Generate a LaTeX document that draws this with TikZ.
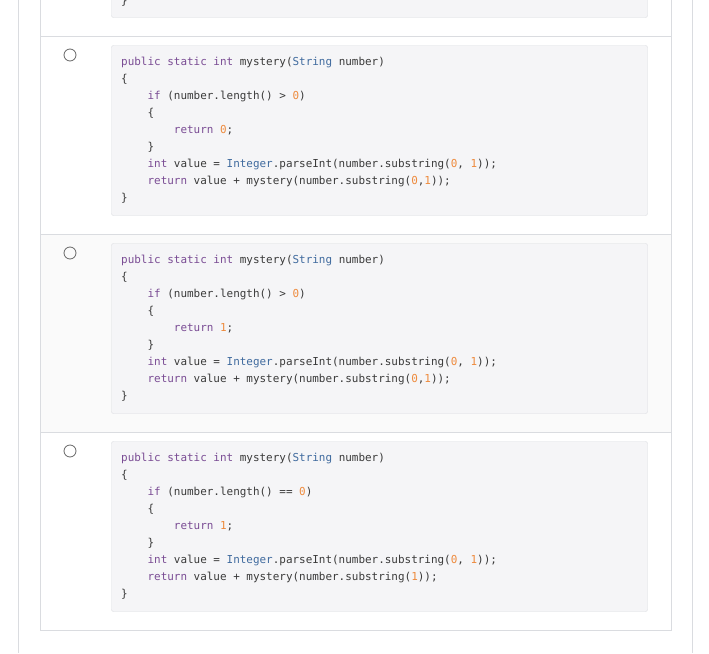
\documentclass[tikz,border=0pt]{standalone}
\usepackage{fontspec}
\setmonofont{DejaVu Sans Mono}
\definecolor{kw}{HTML}{7A4C94}
\definecolor{ty}{HTML}{3F6A9E}
\definecolor{nm}{HTML}{EE8A3C}
\definecolor{tx}{HTML}{3A3A3A}
\definecolor{bd}{HTML}{DADCE0}
\definecolor{cb}{HTML}{F5F5F7}
\newcommand{\K}[1]{\textcolor{kw}{#1}}
\newcommand{\T}[1]{\textcolor{ty}{#1}}
\newcommand{\N}[1]{\textcolor{nm}{#1}}
\begin{document}
\begin{tikzpicture}[x=1pt,y=-1pt,
 code/.style={anchor=west,inner sep=0pt,font=\ttfamily\fontsize{10.95}{12}\selectfont,text=tx,text height=8pt,text depth=2pt},
 box/.style={draw=bd,fill=cb,rounded corners=2pt},
 radio/.style={circle,draw=black!60,line width=0.8pt,minimum size=12pt,inner sep=0pt}]
\useasboundingbox (0,0) rectangle (709,653);
\fill[white] (0,0) rectangle (709,653);
\draw[draw=bd] (18.5,0) -- (18.5,653);
\draw[draw=bd] (692.5,0) -- (692.5,653);
\fill[white] (40.5,0) rectangle (671.5,630.5);
\fill[black!2] (40.5,234.5) rectangle (671.5,432.5);
\draw[draw=bd] (40.5,0) -- (40.5,630.5) -- (671.5,630.5) -- (671.5,0);
\draw[draw=bd] (40.5,36.5) -- (671.5,36.5);
\draw[draw=bd] (40.5,234.5) -- (671.5,234.5);
\draw[draw=bd] (40.5,432.5) -- (671.5,432.5);
\draw[box] (111.5,-5) rectangle (647.5,17.5);
\node[code] (t0) at (121,2) {\}};
\foreach \oy/\i/\ret/\cmp/\last in {45/a/0/>/{\N{0},\N{1}}, 243/b/1/>/{\N{0},\N{1}}, 441/c/1/==/{\N{1}}}{
 \draw[box] (111.5,\oy+0.5) rectangle (647.5,\oy+170.5);
 \node[radio] (r\i) at (70,\oy+10) {};
 \node[code] (l1\i) at (121,\oy+17) {\K{public} \K{static} \K{int} mystery(\T{String} number)};
 \node[code] (l2\i) at (121,\oy+34) {\{};
 \node[code] (l3\i) at (121,\oy+51) {\phantom{xxxx}\K{if} (number.length() \cmp{} \N{0})};
 \node[code] (l4\i) at (121,\oy+68) {\phantom{xxxx}\{};
 \node[code] (l5\i) at (121,\oy+85) {\phantom{xxxxxxxx}\K{return} \N{\ret};};
 \node[code] (l6\i) at (121,\oy+102) {\phantom{xxxx}\}};
 \node[code] (l7\i) at (121,\oy+119) {\phantom{xxxx}\K{int} value = \T{Integer}.parseInt(number.substring(\N{0}, \N{1}));};
 \node[code] (l8\i) at (121,\oy+136) {\phantom{xxxx}\K{return} value + mystery(number.substring(\last));};
 \node[code] (l9\i) at (121,\oy+153) {\}};
}
\end{tikzpicture}
\end{document}
